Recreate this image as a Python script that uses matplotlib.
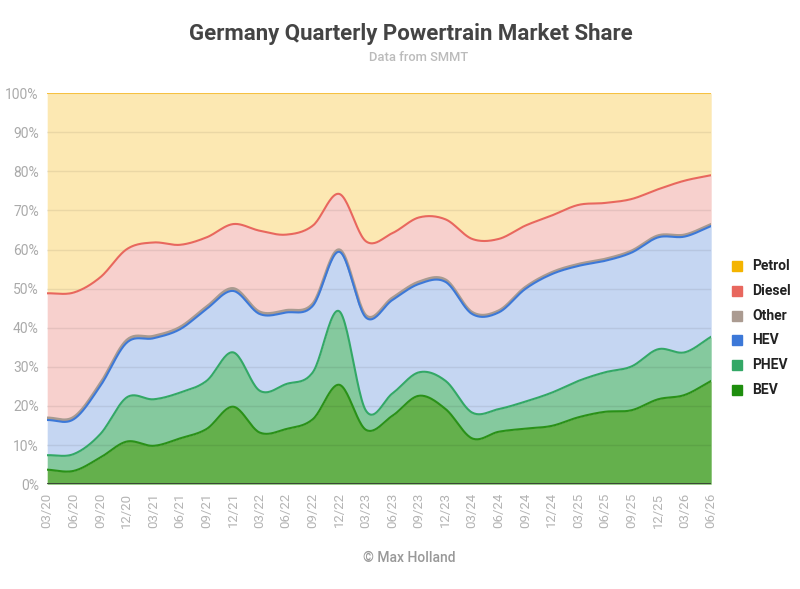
import numpy as np
import matplotlib
matplotlib.use("Agg")
import matplotlib.pyplot as plt
from matplotlib.patches import Rectangle

plt.rcParams['font.family'] = ['Roboto', 'DejaVu Sans']

quarters = ["03/20", "06/20", "09/20", "12/20", "03/21", "06/21", "09/21", "12/21",
            "03/22", "06/22", "09/22", "12/22", "03/23", "06/23", "09/23", "12/23",
            "03/24", "06/24", "09/24", "12/24", "03/25", "06/25", "09/25", "12/25",
            "03/26", "06/26"]

# market share per powertrain (%), bottom to top
bev = [3.7, 3.4, 6.8, 10.9, 9.8, 11.7, 14.1, 19.8, 13.2, 14.1, 16.6, 25.4, 13.9,
       17.5, 22.6, 19.2, 11.7, 13.4, 14.2, 14.9, 17.1, 18.5, 18.9, 21.7, 22.8, 26.4]
phev = [3.7, 4.3, 6.0, 11.3, 11.9, 11.7, 12.3, 13.9, 10.7, 11.5, 12.0, 18.8, 4.9,
        5.7, 6.0, 7.2, 6.6, 5.8, 6.9, 8.5, 9.3, 10.1, 11.2, 12.8, 10.9, 11.3]
hev = [9.0, 8.9, 12.3, 14.0, 15.6, 16.2, 18.4, 15.7, 19.6, 18.3, 17.0, 15.2, 23.8,
       23.9, 22.6, 25.3, 25.2, 24.7, 28.8, 30.3, 29.4, 28.5, 29.1, 28.6, 29.6, 28.3]
other = [0.5, 0.5, 0.6, 0.6, 0.5, 0.5, 0.5, 0.6, 0.5, 0.5, 0.5, 0.5, 0.5,
         0.5, 0.5, 0.5, 0.4, 0.4, 0.4, 0.4, 0.4, 0.4, 0.4, 0.4, 0.4, 0.4]
diesel = [31.9, 31.9, 27.2, 23.3, 24.0, 21.1, 17.8, 16.5, 20.8, 19.4, 20.0, 14.3, 19.0,
          16.6, 16.5, 15.5, 18.8, 18.4, 15.8, 14.6, 15.2, 14.4, 13.3, 11.9, 13.9, 12.6]
petrol = [51.2, 51.0, 47.1, 39.9, 38.2, 38.8, 36.9, 33.5, 35.2, 36.2, 33.9, 25.8, 37.9,
          35.8, 31.8, 32.3, 37.3, 37.3, 33.9, 31.3, 28.6, 28.1, 27.1, 24.6, 22.4, 21.0]

series = [("BEV", bev, "#64b04c", "#2a9118"),
          ("PHEV", phev, "#85c99e", "#33a866"),
          ("HEV", hev, "#c5d6f2", "#3c78d8"),
          ("Other", other, "#c5d6f2", "#a89a90"),
          ("Diesel", diesel, "#f7d0cd", "#e8675e"),
          ("Petrol", petrol, "#fce8b2", "#f6c142")]


def smooth(x, y, n=24):
    # Catmull-Rom style curve through the points
    x = np.asarray(x, float)
    y = np.asarray(y, float)
    m = np.gradient(y, x)
    xs, ys = [], []
    for i in range(len(x) - 1):
        h = x[i + 1] - x[i]
        t = np.linspace(0, 1, n, endpoint=False)
        h00 = 2 * t**3 - 3 * t**2 + 1
        h10 = t**3 - 2 * t**2 + t
        h01 = -2 * t**3 + 3 * t**2
        h11 = t**3 - t**2
        xs.append(x[i] + t * h)
        ys.append(h00 * y[i] + h10 * h * m[i] + h01 * y[i + 1] + h11 * h * m[i + 1])
    xs.append([x[-1]])
    ys.append([y[-1]])
    return np.concatenate(xs), np.concatenate(ys)


fig = plt.figure(figsize=(8, 5.89), dpi=100)
ax = fig.add_axes([0.059, 0.178, 0.83, 0.664])

x = np.arange(len(quarters))
base = np.zeros(len(x))
prev_s = np.zeros(len(x) * 24 - 23)
for name, vals, fill, line in series:
    top = base + np.array(vals)
    xs, ys = smooth(x, top)
    ax.fill_between(xs, prev_s, ys, color=fill, lw=0, zorder=1)
    lw = 2.2 if name == "Other" else 1.5
    ax.plot(xs, ys, color=line, lw=lw, zorder=3 if name != "Other" else 2.5)
    base = top
    prev_s = ys

for v in range(10, 100, 10):
    ax.axhline(v, color="#000000", alpha=0.07, lw=1, zorder=2)
ax.axhline(0, color="#333333", lw=1.2, zorder=4)

ax.set_xlim(0, len(x) - 1)
ax.set_ylim(0, 100)
ax.set_yticks(range(0, 101, 10))
ax.set_yticklabels([f"{v}%" for v in range(0, 101, 10)], color="#aaaaaa", fontsize=10)
ax.set_xticks(x)
ax.set_xticklabels(quarters, rotation=90, color="#b4b4b4", fontsize=9.5)
ax.tick_params(length=0, pad=6)
for s in ax.spines.values():
    s.set_visible(False)

fig.text(0.514, 0.943, "Germany Quarterly Powertrain Market Share", ha="center",
         va="center", fontsize=16, fontweight="bold", color="#444444")
fig.text(0.523, 0.903, "Data from SMMT", ha="center", va="center",
         fontsize=9.3, fontweight="medium", color="#bbbbbb")
fig.text(0.511, 0.052, "© Max Holland", ha="center", va="center",
         fontsize=10, fontweight="medium", color="#999999")

legend_cols = {"Petrol": "#f4b400", "Diesel": "#e8675e", "Other": "#ab9b91",
               "HEV": "#3c78d8", "PHEV": "#33a866", "BEV": "#1e8e0e"}
for i, name in enumerate(["Petrol", "Diesel", "Other", "HEV", "PHEV", "BEV"]):
    yy = 1 - (266 + i * 24.8) / 589
    fig.patches.append(Rectangle((732 / 800, yy - 5 / 589), 10 / 800, 10 / 589,
                                 transform=fig.transFigure, color=legend_cols[name]))
    fig.text(752 / 800, yy, name, ha="left", va="center", fontsize=10,
             fontweight="bold", color="#222222")

fig.savefig("out.png", dpi=100)
